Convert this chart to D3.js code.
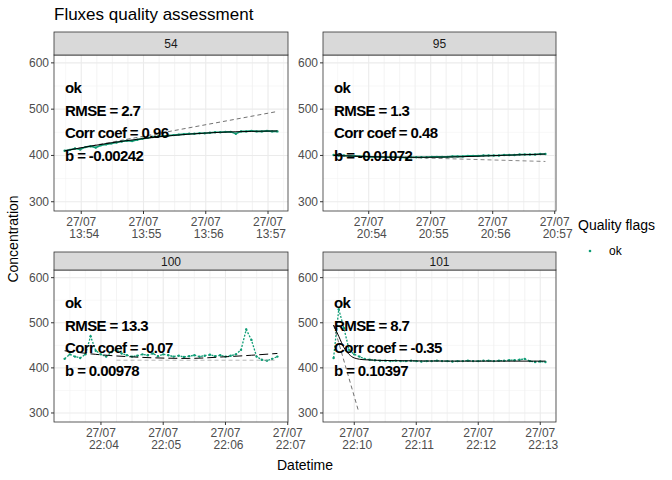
<!DOCTYPE html>
<html><head><meta charset="utf-8">
<script src="https://cdn.jsdelivr.net/npm/d3@7"></script>
<style>body{margin:0;background:#fff}text{font-family:"Liberation Sans",Arial,sans-serif}</style>
</head><body><svg id="c" width="672" height="480"></svg>
<script>
const panels = ["54","95","100","101"];
const starts = ["2023-07-27T13:53:44","2023-07-27T20:53:26","2023-07-27T22:03:25","2023-07-27T22:09:40"];
const tickMinutes = [["13:54","13:55","13:56","13:57"],["20:54","20:55","20:56","20:57"],["22:04","22:05","22:06","22:07"],["22:10","22:11","22:12","22:13"]];
const yTicks = [300,400,500,600];
const conc54 = [410,412,415,413,418,420,417,422,424,426,428,430,432,431,434,436,438,440,441,442,443,444,445,446,447,447,448,448,449,450,450,451,451,447,452,452,453,452,452,453,452,452];
const conc95 = [401,400,400,399,399,398,398,397,397,397,396,396,396,396,395,396,396,396,396,397,397,397,397,398,398,398,399,399,399,400,400,400,400,401,401,401,402,402,402,402,403,403];
const conc100 = [420,430,425,422,430,470,438,430,425,435,440,432,428,425,427,430,428,432,426,430,428,425,427,424,426,428,425,427,429,426,428,425,427,430,440,485,462,425,418,416,420,425];
const conc101 = [422,530,488,440,430,425,420,418,417,416,416,415,416,415,415,416,415,414,415,415,416,415,415,414,415,415,416,415,415,416,416,415,416,416,417,417,418,420,415,413,414,413];
const fitSolid = [
 [[0,410],[30,422],[60,432],[90,440],[120,446],[150,450],[180,452],[205,453]],
 [[0,400],[40,397],[80,396],[120,397],[160,400],[205,403]],
 [[0,438],[30,430],[60,425],[90,422],[120,421],[150,424],[180,428],[205,432]],
 [[0,495],[5,470],[10,445],[15,430],[20,422],[30,418],[60,416],[120,415],[205,415]]];
const fitSolidDash = [null,null,"9,4",null];
const fitDash = [[[0,410],[205,495]],[[0,400],[205,387]],[[50,417],[205,417]],[[0,495],[24,305]]];
const fitDashColor = ["#333","#555","#999","#333"];
const stats = [["ok","RMSE = 2.7","Corr coef = 0.96","b = -0.00242"],["ok","RMSE = 1.3","Corr coef = 0.48","b = -0.01072"],["ok","RMSE = 13.3","Corr coef = -0.07","b = 0.00978"],["ok","RMSE = 8.7","Corr coef = -0.35","b = 0.10397"]];
const concs=[conc54,conc95,conc100,conc101];
const green="#0f9d76";
const svg=d3.select("#c");
const boxes=[{x0:54,x1:288,s0:32,p0:55,p1:211},{x0:323,x1:556,s0:32,p0:55,p1:211},{x0:54,x1:288,s0:252,p0:270,p1:422},{x0:323,x1:556,s0:252,p0:270,p1:422}];
const parse=d3.timeParse("%Y-%m-%dT%H:%M:%S");
panels.forEach((p,i)=>{
  const b=boxes[i], t0=parse(starts[i]);
  const T=s=>new Date(t0.getTime()+s*1000);
  const span=205, pad=span*0.05;
  const x=d3.scaleTime().domain([T(-pad),T(span+pad)]).range([b.x0,b.x1]);
  const y=d3.scaleLinear().domain([280,617]).range([b.p1,b.p0]);
  const g=svg.append("g");
  g.append("rect").attr("x",b.x0).attr("y",b.p0).attr("width",b.x1-b.x0).attr("height",b.p1-b.p0).attr("fill","#fff");
  const day=starts[i].slice(0,11);
  const tk=tickMinutes[i].map(m=>parse(day+m+":00"));
  [350,450,550].forEach(v=>g.append("line").attr("x1",b.x0).attr("x2",b.x1).attr("y1",y(v)).attr("y2",y(v)).attr("stroke","#f2f2f2").attr("stroke-width",0.6));
  tk.forEach(d=>{[-45,-30,-15,15,30,45].forEach(o=>{const dd=new Date(+d+o*1000);if(x(dd)>b.x0&&x(dd)<b.x1)g.append("line").attr("x1",x(dd)).attr("x2",x(dd)).attr("y1",b.p0).attr("y2",b.p1).attr("stroke","#f2f2f2").attr("stroke-width",0.6);});});
  tk.forEach(d=>g.append("line").attr("x1",x(d)).attr("x2",x(d)).attr("y1",b.p0).attr("y2",b.p1).attr("stroke","#ebebeb").attr("stroke-width",1.1));
  yTicks.forEach(v=>g.append("line").attr("x1",b.x0).attr("x2",b.x1).attr("y1",y(v)).attr("y2",y(v)).attr("stroke","#ebebeb").attr("stroke-width",1.1));
  const clip="cl"+i;
  svg.append("clipPath").attr("id",clip).append("rect").attr("x",b.x0).attr("y",b.p0).attr("width",b.x1-b.x0).attr("height",b.p1-b.p0);
  const gc=g.append("g").attr("clip-path",`url(#${clip})`);
  const data=concs[i].map((v,k)=>({t:T(k*5),v}));
  if(i<2) gc.append("path").datum(data).attr("d",d3.line().x(d=>x(d.t)).y(d=>y(d.v))).attr("fill","none").attr("stroke",green).attr("stroke-width",1.6);
  else gc.append("path").datum(data).attr("d",d3.line().x(d=>x(d.t)).y(d=>y(d.v))).attr("fill","none").attr("stroke",green).attr("stroke-width",1.3).attr("stroke-dasharray","2,1.5");
  gc.selectAll("circle").data(data).join("circle").attr("cx",d=>x(d.t)).attr("cy",d=>y(d.v)).attr("r",1.2).attr("fill",green);
  const ln=d3.line().x(d=>x(T(d[0]))).y(d=>y(d[1])).curve(d3.curveMonotoneX);
  gc.append("path").attr("d",d3.line().x(d=>x(T(d[0]))).y(d=>y(d[1]))(fitDash[i])).attr("fill","none").attr("stroke",fitDashColor[i]).attr("stroke-width",0.7).attr("stroke-dasharray","4,3");
  gc.append("path").attr("d",ln(fitSolid[i])).attr("fill","none").attr("stroke","#000").attr("stroke-width",1).attr("stroke-dasharray",fitSolidDash[i]);
  g.append("rect").attr("x",b.x0).attr("y",b.p0).attr("width",b.x1-b.x0).attr("height",b.p1-b.p0).attr("fill","none").attr("stroke","#333").attr("stroke-width",0.8);
  g.append("rect").attr("x",b.x0).attr("y",b.s0).attr("width",b.x1-b.x0).attr("height",b.p0-b.s0).attr("fill","#d9d9d9").attr("stroke","#333").attr("stroke-width",0.8);
  g.append("text").attr("x",(b.x0+b.x1)/2).attr("y",(b.s0+b.p0)/2+4.5).attr("text-anchor","middle").attr("font-size",12).attr("fill","#1a1a1a").text(p);
  yTicks.forEach(v=>{g.append("line").attr("x1",b.x0-3).attr("x2",b.x0).attr("y1",y(v)).attr("y2",y(v)).attr("stroke","#333");
    g.append("text").attr("x",b.x0-5).attr("y",y(v)+4).attr("text-anchor","end").attr("font-size",12).attr("fill","#4d4d4d").text(v);});
  tk.forEach((d,k)=>{g.append("line").attr("x1",x(d)).attr("x2",x(d)).attr("y1",b.p1).attr("y2",b.p1+3).attr("stroke","#333");
    const tx=g.append("text").attr("text-anchor","middle").attr("font-size",12).attr("fill","#4d4d4d");
    tx.append("tspan").attr("x",x(d)).attr("y",b.p1+15).text("27/07");
    tx.append("tspan").attr("x",x(d)+3).attr("y",b.p1+27).text(tickMinutes[i][k]);});
  stats[i].forEach((s,k)=>g.append("text").attr("x",b.x0+11).attr("y",b.p0+38+k*22.5).attr("font-size",15).attr("font-weight","bold").attr("fill","#000").attr("letter-spacing",-0.6).text(s));
});
svg.append("text").attr("x",54).attr("y",20).attr("font-size",17).attr("fill","#000").text("Fluxes quality assessment");
svg.append("text").attr("transform","translate(18,239) rotate(-90)").attr("text-anchor","middle").attr("font-size",14).attr("fill","#000").text("Concentration");
svg.append("text").attr("x",305).attr("y",470).attr("text-anchor","middle").attr("font-size",14).attr("fill","#000").text("Datetime");
svg.append("text").attr("x",578).attr("y",230).attr("font-size",14).attr("fill","#000").text("Quality flags");
svg.append("circle").attr("cx",590).attr("cy",251).attr("r",1.3).attr("fill",green);
svg.append("text").attr("x",609).attr("y",255).attr("font-size",12).attr("fill","#000").text("ok");
</script></body></html>
